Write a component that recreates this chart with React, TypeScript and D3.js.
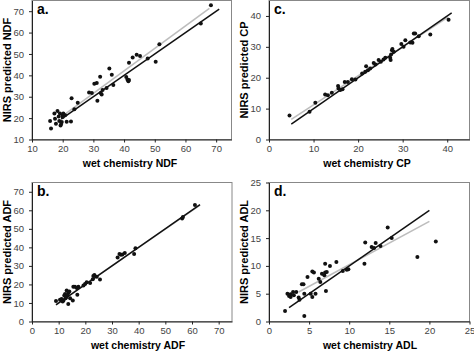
import React, { useEffect, useRef } from 'react'
import * as d3 from 'd3'

// wet chemistry (x) vs NIRS predicted (y)
const ndfPoints: [number, number][] = [
  [68.3, 72.8], [65.0, 64.3], [51.5, 54.5], [50.3, 46.3], [47.7, 47.9], [45.2, 49.0],
  [44.1, 49.6], [42.8, 48.3], [41.6, 45.9], [40.7, 39.2], [41.1, 38.1], [41.6, 37.8],
  [41.4, 37.2], [36.0, 40.3], [35.2, 43.2], [36.5, 35.5], [34.3, 34.1], [32.7, 31.0],
  [32.4, 31.8], [31.3, 28.1], [32.2, 39.4], [31.1, 36.4], [30.3, 36.1], [29.5, 31.8],
  [28.6, 32.0], [24.9, 27.2], [22.9, 29.3], [21.3, 18.3], [22.7, 18.4], [20.0, 21.3],
  [15.9, 18.7], [16.2, 15.1], [17.3, 22.1], [17.5, 19.7], [17.8, 17.4], [18.3, 23.3],
  [18.7, 20.8], [18.9, 18.7], [19.1, 22.1], [19.3, 16.6], [19.7, 18.2], [19.5, 17.2],
  [20.0, 20.5], [20.2, 22.1], [20.8, 21.3], [23.8, 24.2], [33.0, 33.2]
]
const cpPoints: [number, number][] = [
  [4.6, 7.8], [9.1, 9.0], [10.4, 11.9], [12.6, 14.6], [13.2, 14.3], [14.1, 15.1],
  [15.5, 17.3], [15.6, 16.5], [16.0, 16.0], [16.5, 16.3], [17.0, 18.6], [17.7, 18.6],
  [18.6, 19.5], [19.4, 19.4], [20.9, 21.4], [21.6, 21.9], [21.8, 23.7], [22.2, 22.4],
  [22.7, 23.0], [23.5, 24.8], [23.9, 24.3], [24.6, 25.7], [25.1, 25.2], [25.7, 25.9],
  [26.1, 26.5], [27.2, 26.5], [27.4, 27.5], [27.3, 25.7], [27.6, 28.9], [27.7, 29.3],
  [28.0, 28.4], [29.7, 30.9], [30.2, 30.0], [30.6, 32.1], [31.7, 31.4], [32.2, 31.3],
  [32.5, 34.3], [32.8, 34.3], [33.6, 33.4], [36.2, 34.0], [40.3, 38.8]
]
const adfPoints: [number, number][] = [
  [61.1, 62.8], [56.3, 55.6], [56.6, 56.4], [38.8, 39.5], [38.3, 36.4], [34.8, 37.0],
  [32.8, 36.4], [33.3, 36.0], [32.1, 34.5], [33.9, 36.1], [25.5, 22.6], [24.3, 24.1],
  [23.4, 25.1], [22.8, 22.8], [21.8, 20.8], [20.5, 21.2], [19.9, 20.3], [19.3, 19.4],
  [17.4, 18.8], [16.8, 18.1], [16.1, 18.7], [15.5, 18.7], [17.0, 14.4], [15.3, 11.3],
  [13.6, 9.5], [14.3, 12.6], [13.6, 15.4], [13.0, 16.7], [12.4, 14.9], [12.1, 14.0],
  [11.8, 11.3], [11.1, 12.2], [10.5, 11.8], [9.0, 11.1], [12.8, 13.1], [13.3, 14.0],
  [14.0, 16.2], [11.5, 10.8], [12.6, 12.6], [23.0, 24.6]
]
const adlPoints: [number, number][] = [
  [2.0, 1.9], [2.3, 5.0], [2.5, 4.6], [2.7, 4.9], [2.7, 4.4], [3.0, 5.3], [3.1, 4.7],
  [3.4, 5.3], [3.7, 4.3], [3.8, 3.9], [4.1, 6.7], [4.3, 6.7], [4.4, 5.0], [4.4, 1.0],
  [4.8, 8.0], [5.2, 5.0], [5.4, 4.4], [5.4, 9.0], [5.6, 8.8], [5.8, 5.0], [6.2, 7.7],
  [6.4, 7.1], [6.6, 8.6], [6.9, 8.3], [7.0, 8.8], [7.0, 10.4], [7.1, 5.5], [7.2, 8.9],
  [7.6, 10.0], [8.4, 10.7], [9.2, 9.1], [9.7, 9.3], [9.9, 9.4], [11.9, 10.4],
  [12.0, 14.2], [12.8, 13.4], [13.1, 13.2], [13.3, 14.1], [13.9, 13.6], [14.8, 16.9],
  [15.3, 15.0], [18.5, 11.6], [20.8, 14.4]
]

// black: 1:1 line, grey: fitted line
const ndfOneToOne: [number, number][] = [[19.5, 19.5], [71, 71]]
const ndfFit: [number, number][] = [[20.2, 21.3], [67.8, 71.3]]
const cpOneToOne: [number, number][] = [[5, 5], [41, 41]]
const cpFit: [number, number][] = [[5, 6.5], [40.2, 39.6]]
const adfOneToOne: [number, number][] = [[9, 9], [63, 63]]
const adfFit: [number, number][] = [[9, 9.2], [63, 62.8]]
const adlOneToOne: [number, number][] = [[2.5, 2.5], [20, 20]]
const adlFit: [number, number][] = [[3.7, 5.3], [20, 18]]

const ndfTicks = [10, 20, 30, 40, 50, 60, 70]
const cpTicks = [0, 10, 20, 30, 40]
const adfTicks = [0, 10, 20, 30, 40, 50, 60, 70]
const adlTicks = [0, 5, 10, 15, 20, 25]

const FONT = '"Liberation Sans", Arial, sans-serif'

const panels = [
  { tag: 'a.', pts: ndfPoints, one: ndfOneToOne, fit: ndfFit, dom: [10, 75], ticks: ndfTicks,
    xl: 'wet chemistry NDF', yl: 'NIRS predicted NDF', left: 32, right: 231.5, top: 0.5, bottom: 139.5, xlc: 130 },
  { tag: 'c.', pts: cpPoints, one: cpOneToOne, fit: cpFit, dom: [0, 45], ticks: cpTicks,
    xl: 'wet chemistry CP', yl: 'NIRS predicted CP', left: 269, right: 469.5, top: 0.5, bottom: 139.5, xlc: 367 },
  { tag: 'b.', pts: adfPoints, one: adfOneToOne, fit: adfFit, dom: [0, 75], ticks: adfTicks,
    xl: 'wet chemistry ADF', yl: 'NIRS predicted ADF', left: 32, right: 232, top: 182.5, bottom: 321.5, xlc: 138 },
  { tag: 'd.', pts: adlPoints, one: adlOneToOne, fit: adlFit, dom: [0, 25], ticks: adlTicks,
    xl: 'wet chemistry ADL', yl: 'NIRS predicted ADL', left: 269, right: 469.5, top: 182.5, bottom: 321.5, xlc: 370 },
]

export default function App() {
  const ref = useRef<SVGSVGElement>(null)

  useEffect(() => {
    const svg = d3.select(ref.current)
    svg.selectAll('*').remove()

    panels.forEach(p => {
      const x = d3.scaleLinear().domain(p.dom).range([p.left, p.right])
      const y = d3.scaleLinear().domain(p.dom).range([p.bottom, p.top])
      const g = svg.append('g')

      // frame
      g.append('rect')
        .attr('x', p.left).attr('y', p.top)
        .attr('width', p.right - p.left).attr('height', p.bottom - p.top)
        .attr('fill', 'none').attr('stroke', '#888').attr('stroke-width', 1)

      const xAxis = g.append('g')
        .attr('transform', `translate(0,${p.bottom})`)
        .call(d3.axisBottom(x).tickValues(p.ticks).tickSize(3).tickSizeOuter(0).tickPadding(3))
      const yAxis = g.append('g')
        .attr('transform', `translate(${p.left},0)`)
        .call(d3.axisLeft(y).tickValues(p.ticks).tickSize(3).tickSizeOuter(0).tickPadding(5))
      ;[xAxis, yAxis].forEach(a => {
        a.select('.domain').attr('stroke', '#222')
        a.selectAll('line').attr('stroke', '#222')
        a.selectAll('text').attr('fill', '#444').style('font-size', '9.5px').style('font-family', FONT)
      })

      const line = d3.line<[number, number]>().x(d => x(d[0])).y(d => y(d[1]))
      g.append('path').attr('d', line(p.fit)).attr('stroke', '#bdbdbd').attr('stroke-width', 1.6).attr('fill', 'none')
      g.append('path').attr('d', line(p.one)).attr('stroke', '#111').attr('stroke-width', 1.5).attr('fill', 'none')

      g.append('g').selectAll('circle')
        .data(p.pts).enter().append('circle')
        .attr('cx', d => x(d[0])).attr('cy', d => y(d[1]))
        .attr('r', 2).attr('fill', '#111')

      g.append('text')
        .attr('x', p.left + 5).attr('y', p.top + 13.5)
        .attr('font-size', 14).attr('font-weight', 'bold').attr('font-family', FONT)
        .text(p.tag)

      g.append('text')
        .attr('x', p.xlc).attr('y', p.bottom + 27)
        .attr('text-anchor', 'middle')
        .attr('font-size', 10.5).attr('font-weight', 'bold').attr('font-family', FONT)
        .text(p.xl)

      g.append('text')
        .attr('transform', `translate(${p.left - 21},${(p.top + p.bottom) / 2}) rotate(-90)`)
        .attr('text-anchor', 'middle')
        .attr('font-size', 11).attr('font-weight', 'bold').attr('font-family', FONT)
        .text(p.yl)
    })
  }, [])

  return (
    <svg ref={ref} width={474} height={351}
      style={{ position: 'absolute', left: 0, top: 0, background: '#fff' }} />
  )
}
